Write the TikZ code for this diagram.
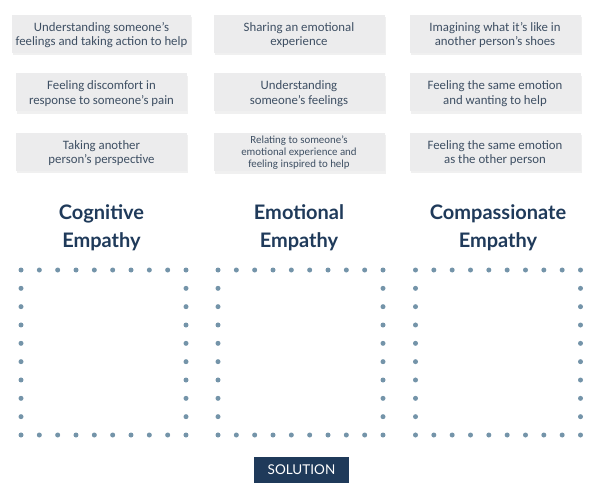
\documentclass[tikz,border=0pt]{standalone}
\usepackage{fontspec}
\setmainfont{Carlito}
\newfontfamily\headfont{Lato}
\usetikzlibrary{shadows}
\definecolor{cardgray}{HTML}{ECECED}
\definecolor{cardtext}{HTML}{3E4F63}
\definecolor{navy}{HTML}{1F3A5A}
\definecolor{dotblue}{HTML}{7494A9}
\begin{document}
\begin{tikzpicture}[x=1pt,y=-1pt,
  card/.style={fill=cardgray, minimum width=171pt, minimum height=38pt, align=center, text=cardtext,
    text depth=0pt, font=\fontsize{12.8}{14.2}\selectfont,
    drop shadow={opacity=0.12, shadow xshift=1pt, shadow yshift=-2.5pt}},
  heading/.style={align=center, text=navy, font=\headfont\bfseries\fontsize{20}{28}\selectfont},
  dotbox/.style={draw=dotblue, line width=5pt, line cap=round, dash pattern=on 0pt off 18.333pt,
    minimum width=165pt, minimum height=165pt, inner sep=0pt},
  button/.style={fill=navy, text=white, minimum width=95pt, minimum height=26pt,
    font=\headfont\fontsize{13.5}{15}\selectfont}]
\useasboundingbox (0,0) rectangle (600,500);
% statement cards
\node[card] (c11) at (101.5,34) {Understanding someone's\\feelings and taking action to help};
\node[card] (c12) at (299,34) {Sharing an emotional\\experience};
\node[card] (c13) at (495,34) {Imagining what it's like in\\another person's shoes};
\node[card] (c21) at (101.5,92.5) {Feeling discomfort in\\response to someone's pain};
\node[card] (c22) at (299,92.5) {Understanding\\someone's feelings};
\node[card] (c23) at (495,92.5) {Feeling the same emotion\\and wanting to help};
\node[card] (c31) at (101.5,152) {Taking another\\person's perspective};
\node[card, font=\fontsize{10.9}{12}\selectfont] (c32) at (299,152) {Relating to someone's\\emotional experience and\\feeling inspired to help};
\node[card] (c33) at (495,152) {Feeling the same emotion\\as the other person};
% headings
\node[heading] (cog) at (101.5,228) {Cognitive\\Empathy};
\node[heading] (emo) at (299,228) {Emotional\\Empathy};
\node[heading] (com) at (498,228) {Compassionate\\Empathy};
% drop zones
\node[dotbox] (cogbox) at (103.5,352.5) {};
\node[dotbox] (emobox) at (300.5,352.5) {};
\node[dotbox] (combox) at (498,352.5) {};
% button
\node[button] (solution) at (301.5,470) {SOLUTION};
\end{tikzpicture}
\end{document}
